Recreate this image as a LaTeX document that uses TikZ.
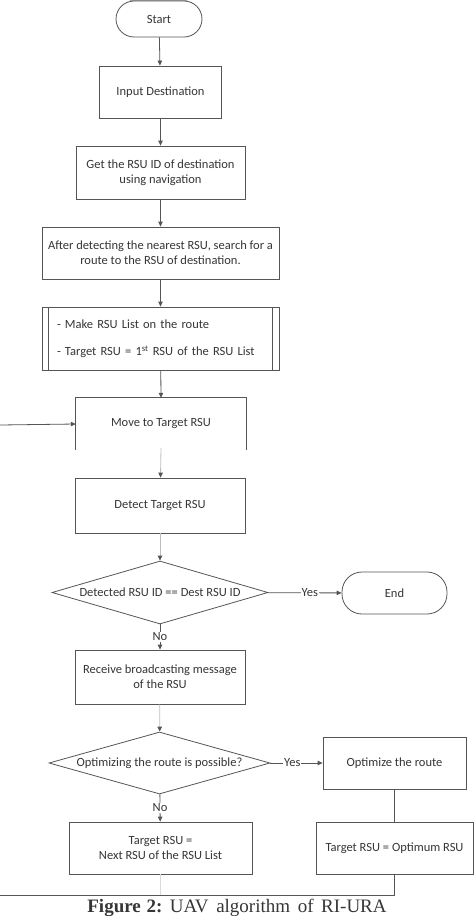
\documentclass[tikz,border=0pt]{standalone}
\usepackage{fontspec}
\setmainfont{Carlito}
\newfontfamily\capfont{Liberation Serif}
\usetikzlibrary{shapes.geometric,arrows.meta}
\definecolor{lineC}{HTML}{555555}
\definecolor{faintC}{HTML}{BDBDBD}
\definecolor{faintD}{HTML}{DADADA}
\definecolor{txtC}{HTML}{363636}
\begin{document}
\begin{tikzpicture}[x=1pt,y=-1pt,
  every node/.style={text=txtC, font=\fontsize{12.5}{15}\selectfont},
  proc/.style={draw=lineC, line width=0.8pt, fill=white, align=center, inner sep=0pt},
  term/.style={draw=lineC, line width=0.8pt, fill=white, align=center, inner sep=0pt},
  decide/.style={diamond, draw=lineC, line width=0.8pt, fill=white, align=center, inner sep=0pt, aspect=3.4},
  lbl/.style={fill=white, inner sep=1pt},
  arr/.style={draw=lineC, line width=0.8pt, -{Triangle[length=5pt,width=4.5pt]}},
  arrf/.style={draw=faintC, line width=0.8pt, -{Triangle[length=5pt,width=4.5pt,fill=lineC,color=lineC]}},
  conn/.style={draw=lineC, line width=0.8pt}
]
\useasboundingbox (0,0) rectangle (474,916);
\fill[gray!70] (130,0) rectangle (187,3);
\node[term, rounded corners=18pt, minimum width=86pt, minimum height=36pt] (start) at (159,19) {Start};
\node[proc, minimum width=122pt, minimum height=52pt] (input) at (160.5,92) {Input Destination};
\node[proc, minimum width=169pt, minimum height=53pt] (getid) at (160.5,172.5) {Get the RSU ID of destination\\using navigation};
\node[proc, minimum width=237pt, minimum height=52pt] (after) at (160.5,253) {After detecting the nearest RSU, search for a\\route to the RSU of destination.};
\node[proc, minimum width=237pt, minimum height=63pt, text width=207pt, inner xsep=15pt, align=left] (sub) at (160.5,338.5) {- Make RSU List on the route\\[12.5pt]- Target RSU = 1\textsuperscript{st} RSU of the RSU List};
\draw[conn] ([xshift=7pt]sub.north west) -- ([xshift=7pt]sub.south west);
\draw[conn] ([xshift=-7pt]sub.north east) -- ([xshift=-7pt]sub.south east);
\node[inner sep=0pt, minimum width=170pt, minimum height=52pt] (move) at (161,424) {Move to Target RSU};
\draw[conn] (move.south west) -- (move.north west) -- (move.north east) -- (move.south east);
\node[proc, minimum width=170pt, minimum height=55pt] (detect) at (160,505.5) {Detect Target RSU};
\node[decide, minimum width=216pt, minimum height=63pt] (dec1) at (160,592.5) {Detected RSU ID == Dest RSU ID};
\node[term, rounded corners=20pt, minimum width=105pt, minimum height=42pt] (endn) at (394.5,593) {End};
\node[proc, minimum width=170pt, minimum height=54pt] (recv) at (160,677) {Receive broadcasting message\\of the RSU};
\node[decide, minimum width=221pt, minimum height=62pt] (dec2) at (159.5,763) {Optimizing the route is possible?};
\node[proc, minimum width=143pt, minimum height=52pt] (opt) at (394.5,763) {Optimize the route};
\node[proc, minimum width=157pt, minimum height=52pt] (optrsu) at (394.5,848) {Target RSU = Optimum RSU};
\node[proc, minimum width=183pt, minimum height=52pt] (next) at (160.5,848) {Target RSU =\\Next RSU of the RSU List};
\coordinate (loopR) at (394.5,895);
\coordinate (loopL) at (0,895);
\coordinate (entry) at (0,425);
\coordinate (nextEnd) at (160.5,895);
\draw[arr] (start) -- (input);
\draw[arr] (input) -- (getid);
\draw[arr] (getid) -- (after);
\draw[arr] (after) -- (sub);
\draw[arr] (sub) -- (move.north);
\draw[arrf] ([yshift=2pt]move.south) -- (detect);
\draw[arrf] (detect) -- (dec1);
\draw[arr] (dec1) -- node[lbl, pos=0.57] (yes1) {Yes} (endn);
\draw[arr] (dec1) -- node[lbl, midway] (no1) {No} (recv);
\draw[arrf] (recv) -- (dec2);
\draw[arr] (dec2) -- node[lbl, pos=0.42] (yes2) {Yes} (opt);
\draw[arr] (dec2) -- node[lbl, midway] (no2) {No} (next);
\draw[conn] (opt) -- (optrsu);
\draw[conn] (optrsu) -- (loopR) -- (loopL);
\draw[draw=faintD, line width=0.8pt] (next) -- (nextEnd);
\draw[arr] (entry) -- (move.west);
\node[anchor=base, inner sep=0pt] (caption) at (237,912) {\capfont\fontsize{19}{22}\selectfont\textbf{Figure\hspace{0.3em}2:}\hspace{0.4em}UAV\hspace{0.4em}algorithm\hspace{0.4em}of\hspace{0.4em}RI-URA};
\end{tikzpicture}
\end{document}
